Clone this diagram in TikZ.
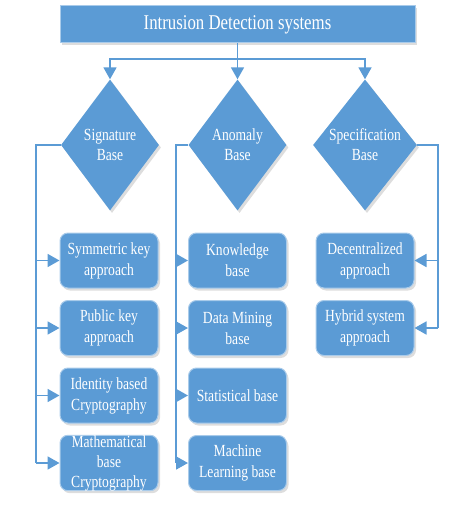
\documentclass[tikz,border=0pt]{standalone}
\usepackage{fontspec}
\newfontfamily\idsfont[FakeStretch=0.8]{Liberation Serif}
\usetikzlibrary{shapes.geometric,shadows,arrows.meta}
\definecolor{idsblue}{HTML}{5B9BD5}
\definecolor{idsedge}{HTML}{A9CBEA}

\begin{document}
\begin{tikzpicture}[x=1pt,y=-1pt,
    shade/.style={drop shadow={shadow xshift=2pt,shadow yshift=-2.5pt,opacity=0.22,fill=black!60}},
    headbox/.style={shade,draw=idsedge,line width=1pt,fill=idsblue,text=white,
      minimum width=355pt,minimum height=37pt,font=\idsfont\fontsize{21}{24}\selectfont},
    choice/.style={shade,diamond,fill=idsblue,text=white,align=center,inner sep=0pt,
      minimum width=98pt,minimum height=131pt,font=\idsfont\fontsize{17}{20}\selectfont},
    leaf/.style={shade,draw=idsedge,line width=1pt,fill=idsblue,rounded corners=8pt,
      text=white,align=center,minimum width=98pt,minimum height=55pt,
      font=\idsfont\fontsize{17}{21}\selectfont},
    link/.style={draw=idsblue,line width=1.8pt},
    tip/.style={-{Triangle[length=12pt,width=13pt]}}
  ]
  \useasboundingbox (0,0) rectangle (474,505);

  % Top of the tree
  \node[headbox] (ids) at (237.5,24.5) {Intrusion Detection systems};

  \node[choice] (sig) at (110,145) {Signature\\Base};
  \node[choice] (ano) at (237.5,145) {Anomaly\\Base};
  \node[choice] (spec) at (365,145) {Specification\\Base};

  % Signature based methods
  \node[leaf] (sym) at (109,260.5) {Symmetric key\\approach};
  \node[leaf] (pub) at (109,328) {Public key\\approach};
  \node[leaf] (idn) at (109,395.5) {Identity based\\Cryptography};
  \node[leaf,inner ysep=0pt,font=\idsfont\fontsize{17}{20}\selectfont] (mat) at (109,463) {Mathematical\\base\\Cryptography};

  % Anomaly based methods
  \node[leaf] (know) at (237.5,260.5) {Knowledge\\base};
  \node[leaf] (mine) at (237.5,328) {Data Mining\\base};
  \node[leaf] (stat) at (237.5,395.5) {Statistical base};
  \node[leaf] (learn) at (237.5,463) {Machine\\Learning base};

  % Specification based methods
  \node[leaf] (dec) at (365,260.5) {Decentralized\\approach};
  \node[leaf] (hyb) at (365,328) {Hybrid system\\approach};

  \coordinate (split) at (237.5,59);
  \coordinate (sigbus) at (36,145);
  \coordinate (anobus) at (176,145);
  \coordinate (specbus) at (438,145);

  \draw[link] (ids.south) -- (split);
  \draw[link,tip] (split) -| (sig.north);
  \draw[link,tip] (split) -- (ano.north);
  \draw[link,tip] (split) -| (spec.north);

  \draw[link] (sig.west) -- (sigbus) -- (sigbus |- mat.west);
  \foreach \b in {sym,pub,idn,mat}
    \draw[link,tip] (sigbus |- \b.west) -- (\b.west);

  \draw[link] (ano.west) -- (anobus) -- (anobus |- learn.west);
  \foreach \b in {know,mine,stat,learn}
    \draw[link,tip] (anobus |- \b.west) -- (\b.west);

  \draw[link] (spec.east) -- (specbus) -- (specbus |- hyb.east);
  \foreach \b in {dec,hyb}
    \draw[link,tip] (specbus |- \b.east) -- (\b.east);
\end{tikzpicture}
\end{document}
